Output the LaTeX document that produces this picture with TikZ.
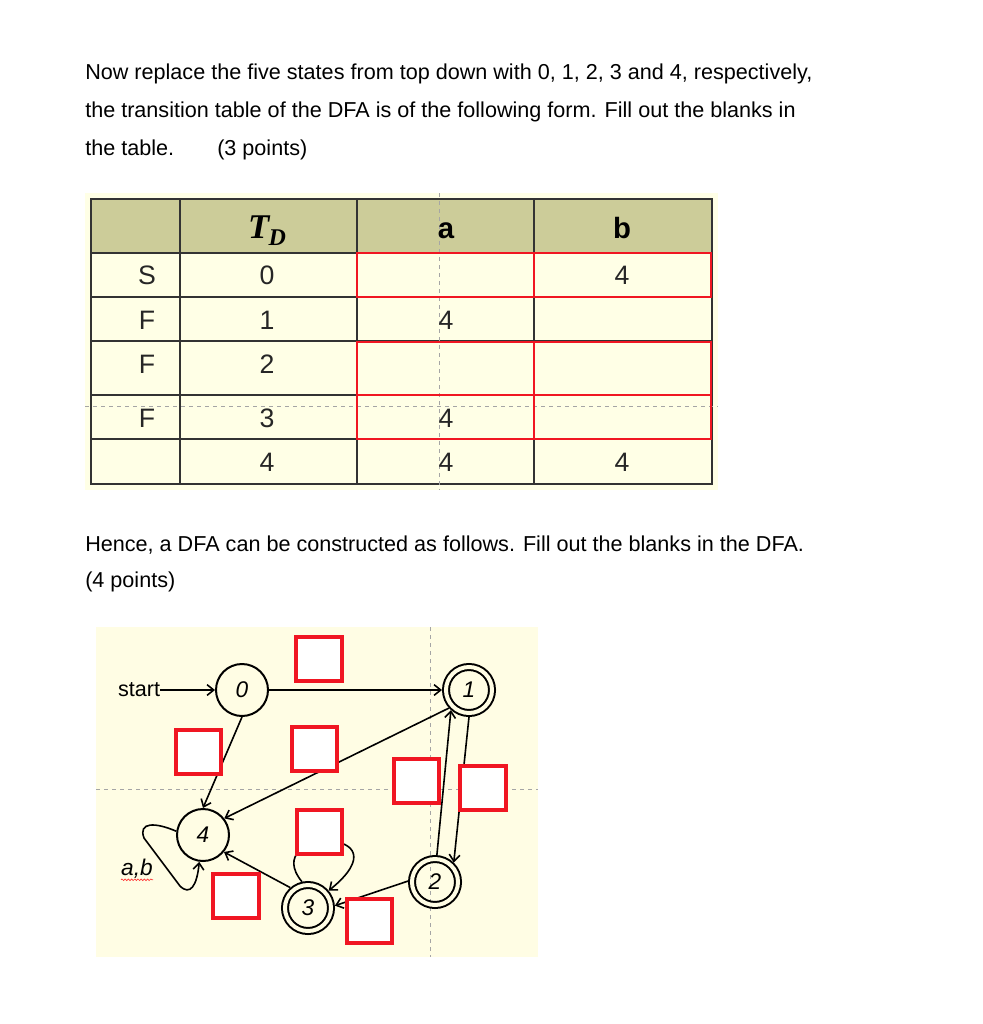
\documentclass[tikz,border=0pt]{standalone}
\usepackage{fontspec}
\setmainfont{Liberation Sans}
\newfontfamily\serifbi{Liberation Serif}
\usetikzlibrary{arrows.meta,positioning,decorations.pathmorphing}

\definecolor{headolive}{RGB}{204,204,153}
\definecolor{cellcream}{RGB}{255,255,230}
\definecolor{panelcream}{RGB}{255,253,228}
\definecolor{blankred}{RGB}{240,22,34}
\definecolor{guidegray}{RGB}{165,165,165}

\tikzset{
  qtext/.style={anchor=base west, inner sep=0pt, font=\fontsize{16.2}{19}\selectfont},
  tnum/.style={inner sep=0pt, font=\fontsize{20}{24}\selectfont, text=black!85},
  thead/.style={anchor=base, inner sep=0pt, font=\fontsize{22}{25}\selectfont\bfseries},
  tline/.style={draw=black!80, line width=1.1pt},
  tblank/.style={draw=blankred, line width=2.2pt},
  guide/.style={draw=guidegray, dash pattern=on 3pt off 3pt, line width=0.6pt},
  stnode/.style={circle, draw, line width=1.5pt, minimum size=39pt, inner sep=0pt,
                 font=\fontsize{17}{20}\selectfont\itshape},
  stacc/.style={stnode, minimum size=34.5pt, double=panelcream, double distance=3pt, outer sep=3pt},
  trans/.style={-{Straight Barb[length=5pt, width=8pt]}, line width=1.2pt},
  dblank/.style={rectangle, draw=blankred, fill=white, line width=3pt,
                 minimum width=34pt, minimum height=33pt, inner sep=0pt},
  spell/.style={draw=red!80, line width=0.5pt, decorate,
                decoration={snake, amplitude=0.6pt, segment length=2.4pt}}
}

\begin{document}
\begin{tikzpicture}[x=0.75pt, y=-0.75pt]
\useasboundingbox[fill=white] (0,0) rectangle (982,1024);

% question text
\node[qtext] (q1) at (85,79.5) {Now replace the five states from top down with 0, 1, 2, 3 and 4, respectively,};
\node[qtext] (q2) at (85,117.5) {the transition table of the DFA is of the following form. Fill out the blanks in};
\node[qtext] (q3) at (85,155.5) {the table.};
\node[qtext] (q3pts) at (217,155.5) {(3 points)};

% transition table
\fill[cellcream] (85,193) rectangle (718,490);
\fill[headolive] (91,199) rectangle (712,253);
\draw[tline] (91,199) rectangle (712,484);
\draw[tline] (180,199) -- (180,484);
\draw[tline] (357,199) -- (357,484);
\draw[tline] (534,199) -- (534,484);
\draw[tline] (91,253) -- (712,253);
\draw[tline] (91,297) -- (712,297);
\draw[tline] (91,341) -- (712,341);
\draw[tline] (91,395) -- (712,395);
\draw[tline] (91,439) -- (712,439);
\draw[guide] (439,193) -- (439,490);
\draw[guide] (85,406) -- (718,406);
\draw[tblank] (357,253) rectangle (534,297);
\draw[tblank] (534,253) rectangle (711,297);
\draw[tblank] (357,342) rectangle (534,395);
\draw[tblank] (534,342) rectangle (711,395);
\draw[tblank] (357,395) rectangle (534,439);
\draw[tblank] (534,395) rectangle (711,439);

\node[thead] (hT) at (267,238) {\serifbi\bfseries\itshape\fontsize{26}{28}\selectfont T\kern-0.5pt\raisebox{-5.5pt}{\fontsize{18}{19}\selectfont D}};
\node[thead] (hA) at (446,238) {a};
\node[thead] (hB) at (622,238) {b};

\node[tnum] (lS) at (147,275) {S};
\node[tnum] (lF1) at (147,320) {F};
\node[tnum] (lF2) at (147,364) {F};
\node[tnum] (lF3) at (147,418) {F};
\node[tnum] (td0) at (267,275) {0};
\node[tnum] (td1) at (267,320) {1};
\node[tnum] (td2) at (267,364) {2};
\node[tnum] (td3) at (267,418) {3};
\node[tnum] (td4) at (267,462) {4};
\node[tnum] (b0) at (622,275) {4};
\node[tnum] (a1) at (446,320) {4};
\node[tnum] (a3) at (446,418) {4};
\node[tnum] (a4) at (446,462) {4};
\node[tnum] (b4) at (622,462) {4};

% second question
\node[qtext] (q4) at (85,551) {Hence, a DFA can be constructed as follows. Fill out the blanks in the DFA.};
\node[qtext] (q5) at (85,587) {(4 points)};

% DFA panel
\fill[panelcream] (96,627) rectangle (538,957);
\draw[guide] (430,627) -- (430,957);
\draw[guide] (96,789) -- (538,789);

\node[stnode] (s0) at (242,690) {0};
\node[stacc] (s1) at (469,690) {1};
\node[stacc] (s2) at (435,882) {2};
\node[stacc] (s3) at (308,908) {3};
\node[stnode] (s4) at (203,835) {4};
\node[inner sep=0pt, font=\fontsize{16.2}{19}\selectfont, left=41pt of s0] (start) {start};

\draw[trans] (start) -- (s0);
\draw[trans] (s0) -- (s1);
\draw[trans] (s0.south) -- (s4.north);
\draw[trans] (s1.222) -- (s4.38);
\draw[trans] (s2.86) -- (s1.228);
\draw[trans] (s1.south) -- (s2.46);
\draw[trans] (s3.131) -- (s4.321);
\draw[trans] (s2.178) -- (s3.5);
\draw[trans] (s3.103) .. controls (258,828) and (410,825) .. (s3.40);
\draw[trans] (s4.172) .. controls (155,822) and (138,822) .. (144,838)
  -- (180,886) .. controls (190,896) and (197,886) .. (s4.262);

\node[inner sep=0pt, font=\fontsize{17}{20}\selectfont\itshape] (loop4) at (137,869) {a,b};
\draw[spell] ([yshift=-3pt]loop4.base west) -- ([yshift=-3pt]loop4.base east);

% blanks to fill in
\node[dblank] (k01) at (319,659) {};
\node[dblank] (k04) at (198.5,752) {};
\node[dblank] (k14) at (314.5,748.5) {};
\node[dblank] (k21) at (416.5,780.5) {};
\node[dblank] (k12) at (483,788) {};
\node[dblank] (k33) at (319.5,832) {};
\node[dblank] (k34) at (236,895.5) {};
\node[dblank] (k23) at (369.5,921) {};
\end{tikzpicture}
\end{document}
